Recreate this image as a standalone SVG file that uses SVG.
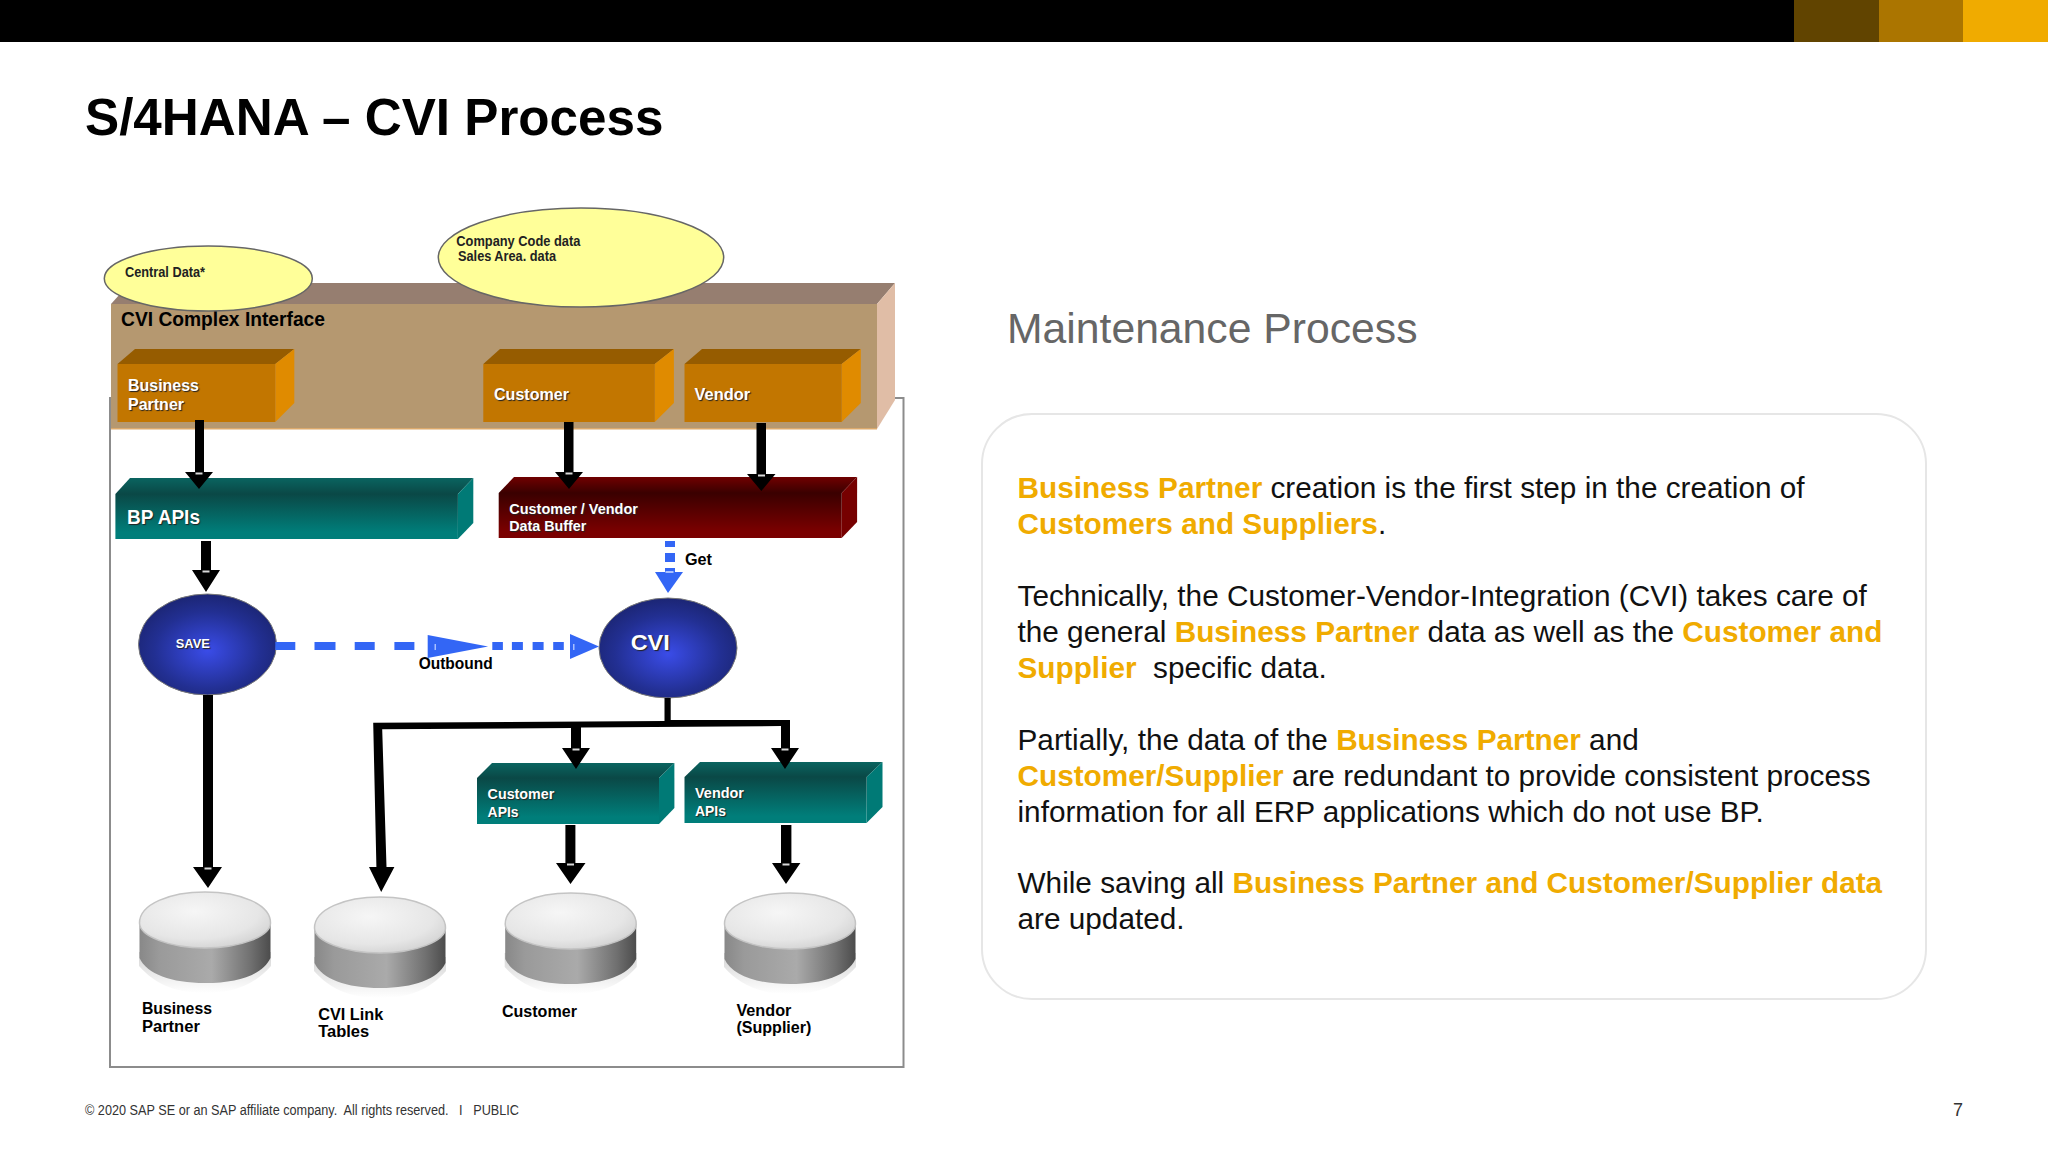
<svg xmlns="http://www.w3.org/2000/svg" width="2048" height="1152" viewBox="0 0 2048 1152">
<style>
text{font-family:"Liberation Sans",Arial,sans-serif;white-space:pre}
.b{font-weight:700;fill:#000}
.y{font-weight:700;fill:#222;stroke:none}
.w{font-weight:700;fill:#fff;text-shadow:1px 1px 1px #222}
.body{font-size:29.750px;fill:#111}
.hi{font-weight:700;fill:#f0ab00}
.k{fill:#000}
.bl{fill:#3366f5}
.tick{fill:#d8d8d8}
.tickb{fill:#a8bfff}
.cyltop{fill:url(#cylT);stroke:#c4c4c4;stroke-width:1.500}
.cylside{fill:url(#cylS)}
.shadow{fill:url(#cylR)}
.otop{fill:#965c00}
.oside{fill:#e08b00}
.ofront{fill:#c27600}
.side-t{fill:#007a76}
</style>
<defs>
<linearGradient id="teal" x1="0" y1="0" x2="0" y2="1"><stop offset="0" stop-color="#0a4846"/><stop offset="0.85" stop-color="#007e7a"/></linearGradient>
<linearGradient id="tealT" x1="0" y1="0" x2="0" y2="1"><stop offset="0" stop-color="#0a6460"/><stop offset="1" stop-color="#0a4846"/></linearGradient>
<linearGradient id="red" x1="0" y1="0" x2="0" y2="1"><stop offset="0" stop-color="#3a0000"/><stop offset="0.85" stop-color="#7a0000"/></linearGradient>
<linearGradient id="redT" x1="0" y1="0" x2="0" y2="1"><stop offset="0" stop-color="#700000"/><stop offset="1" stop-color="#3a0000"/></linearGradient>
<radialGradient id="ball" cx="0.5" cy="0.56" r="0.55"><stop offset="0" stop-color="#3a4ce8"/><stop offset="0.7" stop-color="#222f92"/><stop offset="1" stop-color="#1c2676"/></radialGradient>
<radialGradient id="cylT" cx="0.42" cy="0.35" r="0.7"><stop offset="0" stop-color="#f6f6f6"/><stop offset="0.7" stop-color="#e6e6e6"/><stop offset="1" stop-color="#d2d2d2"/></radialGradient>
<linearGradient id="cylS" x1="0" y1="0" x2="1" y2="0"><stop offset="0" stop-color="#888"/><stop offset="0.15" stop-color="#9a9a9a"/><stop offset="0.55" stop-color="#aaa"/><stop offset="0.85" stop-color="#707070"/><stop offset="1" stop-color="#4c4c4c"/></linearGradient>
<linearGradient id="cylR" x1="0" y1="0" x2="0" y2="1"><stop offset="0" stop-color="#d4d4d4"/><stop offset="1" stop-color="#fff"/></linearGradient>
<g id="cyl">
<path class="shadow" d="M-66 60V74C-50 92-30 101 0 101S50 92 66 74V60Z"/>
<path class="cylside" d="M-65.500 31V66C-58 82-34 91 0 91S58 82 65.500 66V31Z"/>
<path class="cyltop" d="M-65.500 31C-65.500 12-35 0 0 0S65.500 12 65.500 31C65.500 44 36 56 0 56S-65.500 44-65.500 31Z"/>
</g>
</defs>

<rect width="2048" height="1152" fill="#fff"/>
<g id="header">
<rect width="2048" height="42" fill="#000"/>
<rect x="1794" width="85" height="42" fill="#614400"/>
<rect x="1879" width="84" height="42" fill="#ab7500"/>
<rect x="1963" width="85" height="42" fill="#f0ab00"/>
</g>
<text id="title" x="85" y="135" font-size="51.200" class="b">S/4HANA – CVI Process</text>

<rect id="frame" x="110" y="398" width="793.500" height="669" fill="#fff" stroke="#8c8c8c" stroke-width="2"/>

<g id="cvi-complex-interface">
<polygon points="111,304 130,283 895,283 877,304" fill="#967e70"/>
<polygon points="877,304 895,283 895,400 877,429" fill="#e0bda6"/>
<rect x="111" y="304" width="766" height="125" fill="#b59870"/>
<rect x="111" y="428" width="766" height="1.500" fill="#dba96c"/>
<text x="121" y="326" font-size="20" textLength="204" lengthAdjust="spacingAndGlyphs" class="b">CVI Complex Interface</text>
</g>
<g id="central-data">
<ellipse cx="208.300" cy="278.500" rx="104" ry="32.500" fill="#ffff99" stroke="#666" stroke-width="1.500"/>
<text x="125" y="277" font-size="14" textLength="80" lengthAdjust="spacingAndGlyphs" class="y">Central Data*</text>
</g>
<g id="company-data">
<ellipse cx="581" cy="257.500" rx="142.700" ry="49.500" fill="#ffff99" stroke="#666" stroke-width="1.500"/>
<text x="456.300" y="246" font-size="14" textLength="124" lengthAdjust="spacingAndGlyphs" class="y">Company Code data</text>
<text x="458" y="261" font-size="14" textLength="98" lengthAdjust="spacingAndGlyphs" class="y">Sales Area. data</text>
</g>
<g id="bp-box">
<polygon class="otop" points="117.500,364 135,349 294.300,349 275.300,364"/>
<polygon class="oside" points="275.300,364 294.300,349 294.300,403 275.300,422"/>
<rect class="ofront" x="117.500" y="364" width="157.800" height="58"/>
<text x="128" y="391" font-size="17" textLength="71" lengthAdjust="spacingAndGlyphs" class="w">Business</text>
<text x="128" y="410" font-size="17" textLength="56" lengthAdjust="spacingAndGlyphs" class="w">Partner</text>
</g>
<g id="customer-box">
<polygon class="otop" points="483.300,364 500,349 673.900,349 654.800,364"/>
<polygon class="oside" points="654.800,364 673.900,349 673.900,403 654.800,422"/>
<rect class="ofront" x="483.300" y="364" width="171.500" height="58"/>
<text x="494" y="400" font-size="17" textLength="75" lengthAdjust="spacingAndGlyphs" class="w">Customer</text>
</g>
<g id="vendor-box">
<polygon class="otop" points="684.500,364 702,349 860.800,349 841.700,364"/>
<polygon class="oside" points="841.700,364 860.800,349 860.800,403 841.700,422"/>
<rect class="ofront" x="684.500" y="364" width="157.200" height="58"/>
<text x="694.500" y="400" font-size="17" textLength="55.600" lengthAdjust="spacingAndGlyphs" class="w">Vendor</text>
</g>
<g id="bp-apis">
<polygon fill="url(#tealT)" points="115.400,494 130,478 473.300,478 457.900,494"/>
<polygon class="side-t" points="457.900,494 473.300,478 473.300,523 457.900,539"/>
<rect fill="url(#teal)" x="115.400" y="494" width="342.500" height="45"/>
<text x="127" y="524" font-size="20" textLength="73" lengthAdjust="spacingAndGlyphs" class="w">BP APIs</text>
</g>
<g id="data-buffer">
<polygon fill="url(#redT)" points="498.700,493 514,477 857.100,477 841.700,493"/>
<polygon fill="#760000" points="841.700,493 857.100,477 857.100,522 841.700,538"/>
<rect fill="url(#red)" x="498.700" y="493" width="343" height="45"/>
<text x="509.300" y="514" font-size="15" textLength="128.600" lengthAdjust="spacingAndGlyphs" class="w">Customer / Vendor</text>
<text x="509.300" y="531" font-size="15" textLength="77" lengthAdjust="spacingAndGlyphs" class="w">Data Buffer</text>
</g>
<g id="save">
<ellipse cx="207.500" cy="644.500" rx="69" ry="50.500" fill="url(#ball)" stroke="#777" stroke-width="1"/>
<text x="175.800" y="648" font-size="12.500" textLength="34" lengthAdjust="spacingAndGlyphs" class="w">SAVE</text>
</g>
<g id="cvi">
<ellipse cx="668" cy="648" rx="69" ry="50" fill="url(#ball)" stroke="#777" stroke-width="1"/>
<text x="630.700" y="650" font-size="22" textLength="39" lengthAdjust="spacingAndGlyphs" class="w">CVI</text>
</g>
<g id="customer-apis">
<polygon fill="url(#tealT)" points="477,778 492,763 674.400,763 659,778"/>
<polygon class="side-t" points="659,778 674.400,763 674.400,808 659,824"/>
<rect fill="url(#teal)" x="477" y="778" width="182" height="46"/>
<text x="487.600" y="799" font-size="15" textLength="66.700" lengthAdjust="spacingAndGlyphs" class="w">Customer</text>
<text x="487.600" y="817" font-size="15" textLength="31" lengthAdjust="spacingAndGlyphs" class="w">APIs</text>
</g>
<g id="vendor-apis">
<polygon fill="url(#tealT)" points="684.500,777 700,762 882.500,762 866.600,777"/>
<polygon class="side-t" points="866.600,777 882.500,762 882.500,807 866.600,823"/>
<rect fill="url(#teal)" x="684.500" y="777" width="182.100" height="46"/>
<text x="695" y="798" font-size="15" textLength="49" lengthAdjust="spacingAndGlyphs" class="w">Vendor</text>
<text x="695" y="816" font-size="15" textLength="31" lengthAdjust="spacingAndGlyphs" class="w">APIs</text>
</g>
<g id="db-business-partner"><use href="#cyl" x="205" y="892"/><text x="141.900" y="1014" font-size="16" textLength="70" lengthAdjust="spacingAndGlyphs" class="b">Business</text><text x="141.900" y="1032" font-size="16" textLength="58" lengthAdjust="spacingAndGlyphs" class="b">Partner</text></g>
<g id="db-cvi-link"><use href="#cyl" x="380" y="897"/><text x="318.200" y="1020" font-size="16" textLength="65" lengthAdjust="spacingAndGlyphs" class="b">CVI Link</text><text x="318.200" y="1037" font-size="16" textLength="51" lengthAdjust="spacingAndGlyphs" class="b">Tables</text></g>
<g id="db-customer"><use href="#cyl" x="570.700" y="893"/><text x="501.900" y="1017" font-size="16" textLength="75" lengthAdjust="spacingAndGlyphs" class="b">Customer</text></g>
<g id="db-vendor"><use href="#cyl" x="790" y="893"/><text x="736.400" y="1016" font-size="16" textLength="55" lengthAdjust="spacingAndGlyphs" class="b">Vendor</text><text x="736.400" y="1033" font-size="16" textLength="75" lengthAdjust="spacingAndGlyphs" class="b">(Supplier)</text></g>

<g id="connectors">
<polygon class="k" points="195,420 204,420 204,472 213,472 199,489 185,472 195,472"/>
<polygon class="k" points="564,422 573.500,422 573.500,472 583,472 569,489 555,472 564,472"/>
<polygon class="k" points="756.500,423 766,423 766,474 775.500,474 761.300,491 747,474 756.500,474"/>
<polygon class="k" points="201,541 211,541 211,570 220,570 206,592 192,570 201,570"/>
<polygon class="k" points="203,695 213,695 213,867 222,867 208,888 193,867 203,867"/>
<polygon class="k" points="664.500,698 670.700,698 670.700,720 790,720 790,748 799,748 785,769 771,748 781,748 781,726 581,727.500 581,748 590,748 576,769 562,748 571,748 571,728 382.200,729.300 386.500,867 394.400,867 381.200,892 369,867 376.400,867 373.200,722.700 664.500,721"/>
<polygon class="k" points="565.400,825 575.400,825 575.400,863 585.500,863 570.500,884 556,863 565.400,863"/>
<polygon class="k" points="781,825 791.400,825 791.400,863 800.400,863 786,884 772,863 781,863"/>
<rect class="tick" x="195.500" y="472.500" width="7" height="2"/>
<rect class="tick" x="565.500" y="472.500" width="7" height="2"/>
<rect class="tick" x="758" y="474.500" width="7" height="2"/>
<rect class="tick" x="202.500" y="570.500" width="7" height="2"/>
<rect class="tick" x="204.500" y="867.500" width="7" height="2"/>
<rect class="tick" x="572.500" y="748.500" width="7" height="2"/>
<rect class="tick" x="781.500" y="748.500" width="7" height="2"/>
<rect class="tick" x="567" y="863.500" width="7" height="2"/>
<rect class="tick" x="782.500" y="863.500" width="7" height="2"/>
<g class="bl">
<rect x="665" y="541" width="10" height="6"/><rect x="665" y="553" width="10" height="9"/><rect x="665" y="568" width="10" height="5"/>
<polygon points="655,572 683,572 668,593"/>
<rect x="275.300" y="642" width="20" height="8"/><rect x="314.500" y="642" width="21" height="8"/><rect x="354.700" y="642" width="20" height="8"/><rect x="394.400" y="642" width="20" height="8"/>
<polygon points="427.700,635 488.100,646.500 427.700,658"/>
<rect x="492.300" y="642" width="10.600" height="8"/><rect x="511.900" y="642" width="11" height="8"/><rect x="532.600" y="642" width="11" height="8"/><rect x="553.200" y="642" width="10.600" height="8"/>
<polygon points="570,634 599,646.500 570,659"/>
</g>
<rect class="tickb" x="665.500" y="571" width="8" height="2"/>
<rect class="tickb" x="434.500" y="644" width="1.500" height="6"/>
<rect class="tickb" x="573" y="644" width="1.500" height="6"/>
<text x="685" y="565" font-size="16" textLength="27" lengthAdjust="spacingAndGlyphs" class="b">Get</text>
<text x="418.700" y="669" font-size="16" textLength="74" lengthAdjust="spacingAndGlyphs" class="b">Outbound</text>
</g>

<text id="subtitle" x="1007" y="343" font-size="42.700" fill="#666">Maintenance Process</text>
<rect id="panel" x="982" y="414" width="944" height="585" rx="50" fill="#fff" stroke="#e6e6e6" stroke-width="2"/>
<g id="body-text" class="body">
<text x="1017.500" y="498"><tspan class="hi">Business Partner</tspan> creation is the first step in the creation of</text>
<text x="1017.500" y="534"><tspan class="hi">Customers and Suppliers</tspan>.</text>
<text x="1017.500" y="606">Technically, the Customer-Vendor-Integration (CVI) takes care of</text>
<text x="1017.500" y="642">the general <tspan class="hi">Business Partner</tspan> data as well as the <tspan class="hi">Customer and</tspan></text>
<text x="1017.500" y="678"><tspan class="hi">Supplier</tspan>  specific data.</text>
<text x="1017.500" y="750">Partially, the data of the <tspan class="hi">Business Partner</tspan> and</text>
<text x="1017.500" y="786"><tspan class="hi">Customer/Supplier</tspan> are redundant to provide consistent process</text>
<text x="1017.500" y="822">information for all ERP applications which do not use BP.</text>
<text x="1017.500" y="893">While saving all <tspan class="hi">Business Partner and Customer/Supplier data</tspan></text>
<text x="1017.500" y="929">are updated.</text>
</g>
<text id="footer" x="85" y="1115" font-size="14" fill="#333" textLength="434" lengthAdjust="spacingAndGlyphs">© 2020 SAP SE or an SAP affiliate company.  All rights reserved.   I   PUBLIC</text>
<text id="page" x="1953" y="1116" font-size="18" fill="#333">7</text>
</svg>
